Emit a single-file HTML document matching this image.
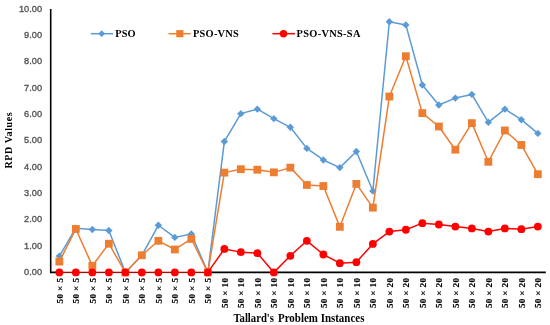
<!DOCTYPE html>
<html><head><meta charset="utf-8"><title>RPD chart</title>
<style>
html,body{margin:0;padding:0;background:#fff;}
body{width:550px;height:325px;overflow:hidden;}
svg{display:block;}
.yt{font-family:"Liberation Sans",Arial,sans-serif;font-size:9.2px;fill:#555;font-weight:normal;stroke:#555;stroke-width:0.35px;}
.xt{font-family:"Liberation Serif","Times New Roman",serif;font-size:9.2px;font-weight:bold;fill:#000;stroke:#000;stroke-width:0.15px;}
.lg{font-family:"Liberation Serif","Times New Roman",serif;font-size:10.4px;font-weight:bold;fill:#000;}
.ayt{font-family:"Liberation Serif","Times New Roman",serif;font-size:10px;font-weight:bold;fill:#000;}
.axt{font-family:"Liberation Serif","Times New Roman",serif;font-size:11.7px;font-weight:bold;fill:#000;}
</style></head>
<body>
<svg width="550" height="325" viewBox="0 0 550 325">
<rect width="550" height="325" fill="#fff"/>
<text x="42" y="275.10" text-anchor="end" class="yt">0.00</text><text x="42" y="248.77" text-anchor="end" class="yt">1.00</text><text x="42" y="222.44" text-anchor="end" class="yt">2.00</text><text x="42" y="196.11" text-anchor="end" class="yt">3.00</text><text x="42" y="169.78" text-anchor="end" class="yt">4.00</text><text x="42" y="143.45" text-anchor="end" class="yt">5.00</text><text x="42" y="117.12" text-anchor="end" class="yt">6.00</text><text x="42" y="90.79" text-anchor="end" class="yt">7.00</text><text x="42" y="64.46" text-anchor="end" class="yt">8.00</text><text x="42" y="38.13" text-anchor="end" class="yt">9.00</text><text x="42" y="11.80" text-anchor="end" class="yt">10.00</text>
<text transform="translate(62.50,278) rotate(-90)" text-anchor="end" textLength="25.6" class="xt">50 × 5</text><text transform="translate(79.00,278) rotate(-90)" text-anchor="end" textLength="25.6" class="xt">50 × 5</text><text transform="translate(95.50,278) rotate(-90)" text-anchor="end" textLength="25.6" class="xt">50 × 5</text><text transform="translate(112.00,278) rotate(-90)" text-anchor="end" textLength="25.6" class="xt">50 × 5</text><text transform="translate(128.50,278) rotate(-90)" text-anchor="end" textLength="25.6" class="xt">50 × 5</text><text transform="translate(145.00,278) rotate(-90)" text-anchor="end" textLength="25.6" class="xt">50 × 5</text><text transform="translate(161.50,278) rotate(-90)" text-anchor="end" textLength="25.6" class="xt">50 × 5</text><text transform="translate(178.00,278) rotate(-90)" text-anchor="end" textLength="25.6" class="xt">50 × 5</text><text transform="translate(194.50,278) rotate(-90)" text-anchor="end" textLength="25.6" class="xt">50 × 5</text><text transform="translate(211.00,278) rotate(-90)" text-anchor="end" textLength="25.6" class="xt">50 × 5</text><text transform="translate(227.50,278) rotate(-90)" text-anchor="end" textLength="30.1" class="xt">50 × 10</text><text transform="translate(244.00,278) rotate(-90)" text-anchor="end" textLength="30.1" class="xt">50 × 10</text><text transform="translate(260.50,278) rotate(-90)" text-anchor="end" textLength="30.1" class="xt">50 × 10</text><text transform="translate(277.00,278) rotate(-90)" text-anchor="end" textLength="30.1" class="xt">50 × 10</text><text transform="translate(293.50,278) rotate(-90)" text-anchor="end" textLength="30.1" class="xt">50 × 10</text><text transform="translate(310.00,278) rotate(-90)" text-anchor="end" textLength="30.1" class="xt">50 × 10</text><text transform="translate(326.50,278) rotate(-90)" text-anchor="end" textLength="30.1" class="xt">50 × 10</text><text transform="translate(343.00,278) rotate(-90)" text-anchor="end" textLength="30.1" class="xt">50 × 10</text><text transform="translate(359.50,278) rotate(-90)" text-anchor="end" textLength="30.1" class="xt">50 × 10</text><text transform="translate(376.00,278) rotate(-90)" text-anchor="end" textLength="30.1" class="xt">50 × 10</text><text transform="translate(392.50,278) rotate(-90)" text-anchor="end" textLength="30.1" class="xt">50 × 20</text><text transform="translate(409.00,278) rotate(-90)" text-anchor="end" textLength="30.1" class="xt">50 × 20</text><text transform="translate(425.50,278) rotate(-90)" text-anchor="end" textLength="30.1" class="xt">50 × 20</text><text transform="translate(442.00,278) rotate(-90)" text-anchor="end" textLength="30.1" class="xt">50 × 20</text><text transform="translate(458.50,278) rotate(-90)" text-anchor="end" textLength="30.1" class="xt">50 × 20</text><text transform="translate(475.00,278) rotate(-90)" text-anchor="end" textLength="30.1" class="xt">50 × 20</text><text transform="translate(491.50,278) rotate(-90)" text-anchor="end" textLength="30.1" class="xt">50 × 20</text><text transform="translate(508.00,278) rotate(-90)" text-anchor="end" textLength="30.1" class="xt">50 × 20</text><text transform="translate(524.50,278) rotate(-90)" text-anchor="end" textLength="30.1" class="xt">50 × 20</text><text transform="translate(541.00,278) rotate(-90)" text-anchor="end" textLength="30.1" class="xt">50 × 20</text>
<text transform="translate(12.0,168.6) rotate(-90)" textLength="56.3" class="ayt">RPD Values</text><text x="233.4" y="321.5" textLength="40.6" lengthAdjust="spacingAndGlyphs" class="axt">Tallard's</text><text x="278.0" y="321.5" textLength="86.4" lengthAdjust="spacingAndGlyphs" class="axt">Problem Instances</text>
<line x1="90.8" y1="33.7" x2="113" y2="33.7" stroke="#5B9BD5" stroke-width="1.5"/><path d="M101.75 30.30L105.15 33.70L101.75 37.10L98.35 33.70Z" fill="#5B9BD5"/><text x="115.2" y="36.9" textLength="20.4" class="lg">PSO</text><line x1="168.5" y1="33.7" x2="190.6" y2="33.7" stroke="#ED7D31" stroke-width="1.5"/><rect x="176.25" y="30.10" width="7.2" height="7.2" fill="#ED7D31"/><text x="193" y="36.9" textLength="45.8" class="lg">PSO-VNS</text><line x1="272.4" y1="33.7" x2="295" y2="33.7" stroke="#FF0000" stroke-width="1.5"/><circle cx="283.55" cy="33.70" r="3.7" fill="#FF0000"/><text x="296.6" y="36.9" textLength="63.8" class="lg">PSO-VNS-SA</text>
<path d="M50.7 9.1V272.4H545.8" fill="none" stroke="#000" stroke-width="1.6"/>
<polyline points="59.35,256.08 75.85,228.17 92.35,229.48 108.85,230.54 125.35,272.40 141.85,255.29 158.35,225.27 174.85,237.38 191.35,233.96 207.85,272.40 224.35,141.54 240.85,113.63 257.35,109.15 273.85,118.63 290.35,127.32 306.85,148.39 323.35,159.97 339.85,167.61 356.35,151.55 372.85,191.04 389.35,21.74 405.85,24.90 422.35,84.93 438.85,104.94 455.35,98.10 471.85,94.41 488.35,122.32 504.85,109.15 521.35,119.69 537.85,133.38" fill="none" stroke="#5B9BD5" stroke-width="1.5" stroke-linejoin="round"/><path d="M59.35 252.38L63.05 256.08L59.35 259.78L55.65 256.08Z" fill="#5B9BD5"/><path d="M75.85 224.47L79.55 228.17L75.85 231.87L72.15 228.17Z" fill="#5B9BD5"/><path d="M92.35 225.78L96.05 229.48L92.35 233.18L88.65 229.48Z" fill="#5B9BD5"/><path d="M108.85 226.84L112.55 230.54L108.85 234.24L105.15 230.54Z" fill="#5B9BD5"/><path d="M125.35 268.70L129.05 272.40L125.35 276.10L121.65 272.40Z" fill="#5B9BD5"/><path d="M141.85 251.59L145.55 255.29L141.85 258.99L138.15 255.29Z" fill="#5B9BD5"/><path d="M158.35 221.57L162.05 225.27L158.35 228.97L154.65 225.27Z" fill="#5B9BD5"/><path d="M174.85 233.68L178.55 237.38L174.85 241.08L171.15 237.38Z" fill="#5B9BD5"/><path d="M191.35 230.26L195.05 233.96L191.35 237.66L187.65 233.96Z" fill="#5B9BD5"/><path d="M207.85 268.70L211.55 272.40L207.85 276.10L204.15 272.40Z" fill="#5B9BD5"/><path d="M224.35 137.84L228.05 141.54L224.35 145.24L220.65 141.54Z" fill="#5B9BD5"/><path d="M240.85 109.93L244.55 113.63L240.85 117.33L237.15 113.63Z" fill="#5B9BD5"/><path d="M257.35 105.45L261.05 109.15L257.35 112.85L253.65 109.15Z" fill="#5B9BD5"/><path d="M273.85 114.93L277.55 118.63L273.85 122.33L270.15 118.63Z" fill="#5B9BD5"/><path d="M290.35 123.62L294.05 127.32L290.35 131.02L286.65 127.32Z" fill="#5B9BD5"/><path d="M306.85 144.69L310.55 148.39L306.85 152.09L303.15 148.39Z" fill="#5B9BD5"/><path d="M323.35 156.27L327.05 159.97L323.35 163.67L319.65 159.97Z" fill="#5B9BD5"/><path d="M339.85 163.91L343.55 167.61L339.85 171.31L336.15 167.61Z" fill="#5B9BD5"/><path d="M356.35 147.85L360.05 151.55L356.35 155.25L352.65 151.55Z" fill="#5B9BD5"/><path d="M372.85 187.34L376.55 191.04L372.85 194.74L369.15 191.04Z" fill="#5B9BD5"/><path d="M389.35 18.04L393.05 21.74L389.35 25.44L385.65 21.74Z" fill="#5B9BD5"/><path d="M405.85 21.20L409.55 24.90L405.85 28.60L402.15 24.90Z" fill="#5B9BD5"/><path d="M422.35 81.23L426.05 84.93L422.35 88.63L418.65 84.93Z" fill="#5B9BD5"/><path d="M438.85 101.24L442.55 104.94L438.85 108.64L435.15 104.94Z" fill="#5B9BD5"/><path d="M455.35 94.40L459.05 98.10L455.35 101.80L451.65 98.10Z" fill="#5B9BD5"/><path d="M471.85 90.71L475.55 94.41L471.85 98.11L468.15 94.41Z" fill="#5B9BD5"/><path d="M488.35 118.62L492.05 122.32L488.35 126.02L484.65 122.32Z" fill="#5B9BD5"/><path d="M504.85 105.45L508.55 109.15L504.85 112.85L501.15 109.15Z" fill="#5B9BD5"/><path d="M521.35 115.99L525.05 119.69L521.35 123.39L517.65 119.69Z" fill="#5B9BD5"/><path d="M537.85 129.68L541.55 133.38L537.85 137.08L534.15 133.38Z" fill="#5B9BD5"/><polyline points="59.35,261.60 75.85,228.96 92.35,265.82 108.85,243.70 125.35,272.40 141.85,255.29 158.35,240.80 174.85,249.49 191.35,238.96 207.85,272.40 224.35,172.61 240.85,169.19 257.35,169.71 273.85,172.35 290.35,167.61 306.85,184.98 323.35,186.04 339.85,226.85 356.35,183.93 372.85,207.63 389.35,96.52 405.85,56.23 422.35,113.10 438.85,126.53 455.35,149.70 471.85,123.11 488.35,161.81 504.85,130.48 521.35,144.96 537.85,174.19" fill="none" stroke="#ED7D31" stroke-width="1.5" stroke-linejoin="round"/><rect x="55.45" y="257.70" width="7.8" height="7.8" fill="#ED7D31"/><rect x="71.95" y="225.06" width="7.8" height="7.8" fill="#ED7D31"/><rect x="88.45" y="261.92" width="7.8" height="7.8" fill="#ED7D31"/><rect x="104.95" y="239.80" width="7.8" height="7.8" fill="#ED7D31"/><rect x="121.45" y="268.50" width="7.8" height="7.8" fill="#ED7D31"/><rect x="137.95" y="251.39" width="7.8" height="7.8" fill="#ED7D31"/><rect x="154.45" y="236.90" width="7.8" height="7.8" fill="#ED7D31"/><rect x="170.95" y="245.59" width="7.8" height="7.8" fill="#ED7D31"/><rect x="187.45" y="235.06" width="7.8" height="7.8" fill="#ED7D31"/><rect x="203.95" y="268.50" width="7.8" height="7.8" fill="#ED7D31"/><rect x="220.45" y="168.71" width="7.8" height="7.8" fill="#ED7D31"/><rect x="236.95" y="165.29" width="7.8" height="7.8" fill="#ED7D31"/><rect x="253.45" y="165.81" width="7.8" height="7.8" fill="#ED7D31"/><rect x="269.95" y="168.45" width="7.8" height="7.8" fill="#ED7D31"/><rect x="286.45" y="163.71" width="7.8" height="7.8" fill="#ED7D31"/><rect x="302.95" y="181.08" width="7.8" height="7.8" fill="#ED7D31"/><rect x="319.45" y="182.14" width="7.8" height="7.8" fill="#ED7D31"/><rect x="335.95" y="222.95" width="7.8" height="7.8" fill="#ED7D31"/><rect x="352.45" y="180.03" width="7.8" height="7.8" fill="#ED7D31"/><rect x="368.95" y="203.73" width="7.8" height="7.8" fill="#ED7D31"/><rect x="385.45" y="92.62" width="7.8" height="7.8" fill="#ED7D31"/><rect x="401.95" y="52.33" width="7.8" height="7.8" fill="#ED7D31"/><rect x="418.45" y="109.20" width="7.8" height="7.8" fill="#ED7D31"/><rect x="434.95" y="122.63" width="7.8" height="7.8" fill="#ED7D31"/><rect x="451.45" y="145.80" width="7.8" height="7.8" fill="#ED7D31"/><rect x="467.95" y="119.21" width="7.8" height="7.8" fill="#ED7D31"/><rect x="484.45" y="157.91" width="7.8" height="7.8" fill="#ED7D31"/><rect x="500.95" y="126.58" width="7.8" height="7.8" fill="#ED7D31"/><rect x="517.45" y="141.06" width="7.8" height="7.8" fill="#ED7D31"/><rect x="533.95" y="170.29" width="7.8" height="7.8" fill="#ED7D31"/><polyline points="59.35,272.40 75.85,272.40 92.35,272.40 108.85,272.40 125.35,272.40 141.85,272.40 158.35,272.40 174.85,272.40 191.35,272.40 207.85,272.40 224.35,248.97 240.85,252.13 257.35,253.18 273.85,272.40 290.35,255.81 306.85,240.80 323.35,254.50 339.85,263.18 356.35,262.13 372.85,243.96 389.35,231.59 405.85,229.75 422.35,223.16 438.85,224.48 455.35,226.59 471.85,228.43 488.35,231.59 504.85,228.43 521.35,229.22 537.85,226.59" fill="none" stroke="#FF0000" stroke-width="1.5" stroke-linejoin="round"/><rect x="59.35" y="272" width="148.50" height="1" fill="#B80000"/><rect x="59.35" y="271" width="148.50" height="1" fill="#F4B4B4"/><rect x="59.35" y="273" width="148.50" height="1" fill="#DDEFEF"/><circle cx="59.35" cy="272.40" r="3.9" fill="#FF0000"/><circle cx="75.85" cy="272.40" r="3.9" fill="#FF0000"/><circle cx="92.35" cy="272.40" r="3.9" fill="#FF0000"/><circle cx="108.85" cy="272.40" r="3.9" fill="#FF0000"/><circle cx="125.35" cy="272.40" r="3.9" fill="#FF0000"/><circle cx="141.85" cy="272.40" r="3.9" fill="#FF0000"/><circle cx="158.35" cy="272.40" r="3.9" fill="#FF0000"/><circle cx="174.85" cy="272.40" r="3.9" fill="#FF0000"/><circle cx="191.35" cy="272.40" r="3.9" fill="#FF0000"/><circle cx="207.85" cy="272.40" r="3.9" fill="#FF0000"/><circle cx="224.35" cy="248.97" r="3.9" fill="#FF0000"/><circle cx="240.85" cy="252.13" r="3.9" fill="#FF0000"/><circle cx="257.35" cy="253.18" r="3.9" fill="#FF0000"/><circle cx="273.85" cy="272.40" r="3.9" fill="#FF0000"/><circle cx="290.35" cy="255.81" r="3.9" fill="#FF0000"/><circle cx="306.85" cy="240.80" r="3.9" fill="#FF0000"/><circle cx="323.35" cy="254.50" r="3.9" fill="#FF0000"/><circle cx="339.85" cy="263.18" r="3.9" fill="#FF0000"/><circle cx="356.35" cy="262.13" r="3.9" fill="#FF0000"/><circle cx="372.85" cy="243.96" r="3.9" fill="#FF0000"/><circle cx="389.35" cy="231.59" r="3.9" fill="#FF0000"/><circle cx="405.85" cy="229.75" r="3.9" fill="#FF0000"/><circle cx="422.35" cy="223.16" r="3.9" fill="#FF0000"/><circle cx="438.85" cy="224.48" r="3.9" fill="#FF0000"/><circle cx="455.35" cy="226.59" r="3.9" fill="#FF0000"/><circle cx="471.85" cy="228.43" r="3.9" fill="#FF0000"/><circle cx="488.35" cy="231.59" r="3.9" fill="#FF0000"/><circle cx="504.85" cy="228.43" r="3.9" fill="#FF0000"/><circle cx="521.35" cy="229.22" r="3.9" fill="#FF0000"/><circle cx="537.85" cy="226.59" r="3.9" fill="#FF0000"/>
</svg>
</body></html>
